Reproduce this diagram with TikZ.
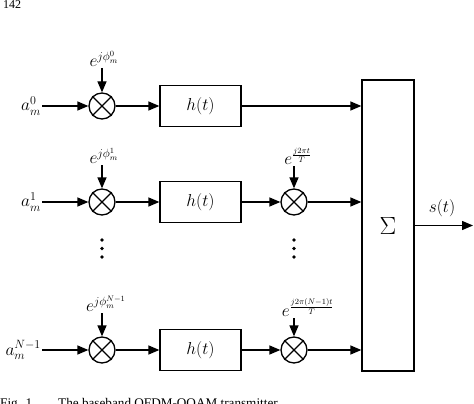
\documentclass[tikz,border=0pt]{standalone}
\usepackage[no-math]{fontspec}
\setmainfont{Liberation Serif}
\usepackage{tikz}
\usetikzlibrary{arrows.meta}

\begin{document}
\begin{tikzpicture}[x=1pt,y=-1pt]
\tikzstyle{every node}=[font=\fontsize{17}{20}\selectfont, inner sep=1pt]
\tikzstyle{mult}=[draw, shape=circle, minimum size=26pt, inner sep=0pt, line width=1.3pt]
\tikzstyle{block}=[draw, minimum width=81pt, minimum height=41pt, line width=1.3pt]
\tikzstyle{sig}=[-{Triangle[length=11pt,width=9pt]}, line width=1.3pt]
\useasboundingbox (0,0) rectangle (474,404);
\node at (3,9) [anchor=base west, inner sep=0pt, font=\fontsize{12}{14}\selectfont] (pg) {142};
% branches
\node at (102,106) [mult] (m0) {};
\node at (102,202) [mult] (m1) {};
\node at (102,350) [mult] (mN) {};
\node at (200.5,106) [block] (h0) {$h(t)$};
\node at (200.5,202) [block] (h1) {$h(t)$};
\node at (200.5,350) [block] (hN) {$h(t)$};
\node at (294,202) [mult] (w1) {};
\node at (294,350) [mult] (wN) {};
\node at (388,225.5) [draw, minimum width=52pt, minimum height=291pt, line width=1.3pt] (sum) {\fontsize{30}{34}\selectfont$\Sigma$};
\coordinate (out) at (473,225.5);
% labels
\node at (42,106) [anchor=east] (a0) {$a_m^0$};
\node at (42,202) [anchor=east] (a1) {$a_m^1$};
\node at (42,350) [anchor=east] (aN) {$a_m^{N-1}$};
\node at (104,68) [anchor=south] (p0) {$e^{j\phi_m^0}$};
\node at (104,165) [anchor=south] (p1) {$e^{j\phi_m^1}$};
\node at (106,313) [anchor=south] (pN) {$e^{j\phi_m^{N-1}}$};
\node at (298,166) [anchor=south] (q1) {$e^{\frac{j2\pi t}{T}}$};
\node at (308,318) [anchor=south] (qN) {$e^{\frac{j2\pi(N-1)t}{T}}$};
\node at (442,208) (st) {$s(t)$};
\node at (0,407) [anchor=base west, inner sep=0pt, font=\fontsize{13.2}{15}\selectfont] (cap) {\makebox[58pt][l]{Fig. 1}The baseband OFDM-OQAM transmitter};
% crosses
\foreach \m in {m0,m1,mN,w1,wN}
  \draw[line width=1.3pt] (\m.north west) -- (\m.south east) (\m.north east) -- (\m.south west);
\foreach \y in {240,248.5,257}
  \fill (102,\y) circle (1.8) (294,\y) circle (1.8);
\draw[sig] (a0.east) -- (m0.west);
\draw[sig] (a1.east) -- (m1.west);
\draw[sig] (aN.east |- mN) -- (mN.west);
\draw[sig] (p0.south -| m0) -- (m0.north);
\draw[sig] (p1.south -| m1) -- (m1.north);
\draw[sig] (pN.south -| mN) -- (mN.north);
\draw[sig] (q1.south -| w1) -- (w1.north);
\draw[sig] (qN.south -| wN) -- (wN.north);
\draw[sig] (m0) -- (h0);
\draw[sig] (m1) -- (h1);
\draw[sig] (mN) -- (hN);
\draw[sig] (h0) -- (h0 -| sum.west);
\draw[sig] (h1) -- (w1);
\draw[sig] (hN) -- (wN);
\draw[sig] (w1) -- (w1 -| sum.west);
\draw[sig] (wN) -- (wN -| sum.west);
\draw[sig] (sum.east |- out) -- (out);
\end{tikzpicture}
\end{document}
